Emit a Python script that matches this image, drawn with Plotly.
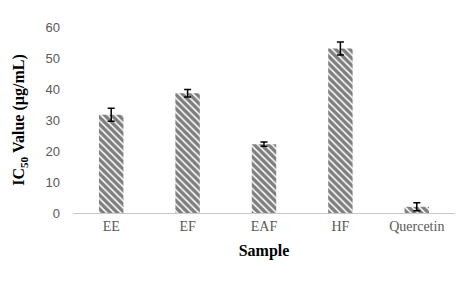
import plotly.graph_objects as go

categories = ["EE", "EF", "EAF", "HF", "Quercetin"]
values = [31.7, 38.6, 22.2, 53.1, 2.0]
errors = [2.1, 1.2, 0.7, 2.1, 1.3]
y_ticks = [0, 10, 20, 30, 40, 50, 60]

fig = go.Figure(go.Bar(
    x=categories, y=values,
    marker=dict(color="white", line=dict(width=0),
                pattern=dict(shape="\\", fgcolor="black", bgcolor="white", size=5, solidity=0.7)),
    error_y=dict(type="data", array=errors, color="black", thickness=1.5, width=3.5),
    width=0.32,
))

fig.update_layout(
    width=474, height=283,
    margin=dict(l=73, r=19, t=27, b=70),
    paper_bgcolor="white", plot_bgcolor="white",
    showlegend=False,
    xaxis=dict(
        showline=True, linecolor="#c8c8c8", linewidth=1,
        ticks="", tickfont=dict(family="Liberation Serif", size=14, color="#595959"),
        title=dict(text="<b>Sample</b>", font=dict(family="Liberation Serif", size=16, color="black"), standoff=12),
    ),
    yaxis=dict(
        range=[0, 60], tickvals=y_ticks, showgrid=False, zeroline=False,
        showline=False, ticks="",
        tickfont=dict(family="Liberation Sans", size=13, color="#595959"),
        ticklabelstandoff=12,
        title=dict(text="<b>IC<sub>50</sub> Value (µg/mL)</b>", font=dict(family="Liberation Serif", size=16, color="black"), standoff=16),
    ),
)

fig.write_html("out.html")
